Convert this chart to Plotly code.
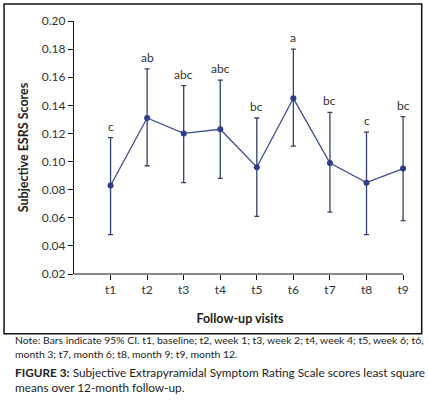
import plotly.graph_objects as go

# Least square means with 95% CI
visits = ['t1', 't2', 't3', 't4', 't5', 't6', 't7', 't8', 't9']
means = [0.083, 0.131, 0.120, 0.123, 0.096, 0.145, 0.099, 0.085, 0.095]
ci_upper = [0.117, 0.166, 0.154, 0.158, 0.131, 0.180, 0.135, 0.121, 0.132]
ci_lower = [0.048, 0.097, 0.085, 0.088, 0.061, 0.111, 0.064, 0.048, 0.058]
letters = ['c', 'ab', 'abc', 'abc', 'bc', 'a', 'bc', 'c', 'bc']
y_ticks = [0.02, 0.04, 0.06, 0.08, 0.10, 0.12, 0.14, 0.16, 0.18, 0.20]

FONT = 'Lato'
TEXT_COLOR = '#333333'
LINE_COLOR = '#3F4C8C'
BAR_COLOR = '#34406A'
AXIS_COLOR = '#111111'

x_pos = list(range(1, len(visits) + 1))

fig = go.Figure()

fig.add_trace(go.Scatter(
    x=x_pos,
    y=means,
    mode='lines+markers',
    line=dict(color=LINE_COLOR, width=1.3),
    marker=dict(color='#2F3C8A', size=6),
    error_y=dict(
        type='data',
        symmetric=False,
        array=[u - m for u, m in zip(ci_upper, means)],
        arrayminus=[m - l for m, l in zip(means, ci_lower)],
        color=BAR_COLOR,
        thickness=1.3,
        width=2.5
    ),
    cliponaxis=False,
    showlegend=False
))

# significance letters above the CI bars
for x, u, lab in zip(x_pos, ci_upper, letters):
    fig.add_annotation(
        x=x, y=u, text=lab, showarrow=False,
        yanchor='bottom', yshift=2,
        font=dict(family=FONT, size=12, color=TEXT_COLOR)
    )

# x axis line stops at the last category (range is padded so the last CI cap isn't clipped)
fig.add_shape(
    type='line', xref='x', yref='paper',
    x0=0, x1=len(visits), y0=0, y1=0,
    line=dict(color=AXIS_COLOR, width=1.2)
)

# outer frame
fig.add_shape(
    type='rect', xref='paper', yref='paper',
    x0=-0.2107, x1=1.0473, y0=-0.2357, y1=1.067,
    line=dict(color=AXIS_COLOR, width=1.5)
)

fig.add_annotation(
    xref='paper', yref='paper', x=-0.183, y=-0.287,
    xanchor='left', yanchor='middle', align='left', showarrow=False,
    text='Note: Bars indicate 95% CI. t1, baseline; t2, week 1; t3, week 2; t4, week 4; t5, week 6; t6,<br>'
         'month 3; t7, month 6; t8, month 9; t9, month 12.',
    font=dict(family=FONT, size=10.4, color='#222222')
)

fig.add_annotation(
    xref='paper', yref='paper', x=-0.183, y=-0.417,
    xanchor='left', yanchor='middle', align='left', showarrow=False,
    text='<b>FIGURE 3:</b> Subjective Extrapyramidal Symptom Rating Scale scores least square<br>'
         'means over 12-month follow-up.',
    font=dict(family=FONT, size=11.8, color='#222222')
)

fig.update_layout(
    width=428,
    height=411,
    margin=dict(l=74, r=21.7, t=21, b=136.7),
    paper_bgcolor='white',
    plot_bgcolor='white',
    font=dict(family=FONT, size=12, color=TEXT_COLOR),
    xaxis=dict(
        range=[0, 9.08],
        tickmode='array',
        tickvals=x_pos,
        ticktext=visits,
        showgrid=False,
        zeroline=False,
        showline=False,
        ticks='outside',
        ticklen=5,
        tickcolor=AXIS_COLOR,
        title=dict(text='<b>Follow-up visits</b>', font=dict(family=FONT, size=12.5, color='#222222'), standoff=17)
    ),
    yaxis=dict(
        range=[0.02, 0.20],
        tickmode='array',
        tickvals=y_ticks,
        ticktext=[f'{v:.2f}' for v in y_ticks],
        showgrid=False,
        zeroline=False,
        showline=True,
        linecolor=AXIS_COLOR,
        linewidth=1.2,
        ticks='outside',
        ticklen=5,
        tickcolor=AXIS_COLOR,
        title=dict(text='<b>Subjective ESRS Scores</b>', font=dict(family=FONT, size=12.5, color='#222222'), standoff=10)
    )
)

# drop the page's default body margin so the figure sits at the window origin
fig.write_html("out.html", config={'displayModeBar': False},
               post_script="document.body.style.margin='0';")
